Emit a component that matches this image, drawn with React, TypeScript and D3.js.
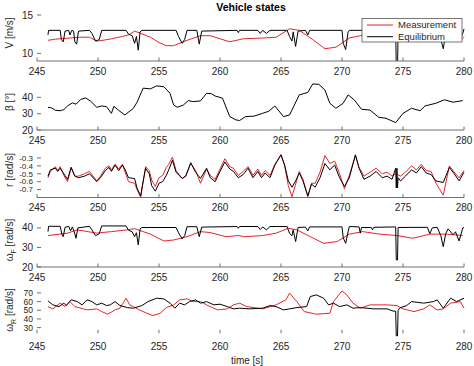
import * as d3 from "d3";
import { useEffect, useRef } from "react";

type Pt = [number, number];

const timeTicks = [245, 250, 255, 260, 265, 270, 275, 280];

// V [m/s]
const vMeasurement: Pt[] = [
  [245.9, 11.7], [246.5, 11.85], [247.5, 11.97], [248.5, 12.1], [249.3, 12.1], [249.9, 11.6],
  [250.4, 11.7], [251.1, 11.9], [252.0, 12.2], [252.5, 12.4], [253.0, 12.9], [253.5, 12.6],
  [254.3, 12.1], [255.0, 11.4], [255.6, 11.0], [256.2, 11.0], [257.3, 11.7], [258.4, 12.3],
  [259.2, 12.3], [260.0, 11.9], [260.8, 11.5], [261.9, 11.9], [263.5, 12.0], [264.6, 12.1],
  [265.3, 12.8], [265.7, 13.2], [266.5, 13.0], [267.6, 11.8], [268.6, 10.6], [269.5, 10.8],
  [270.6, 12.0], [271.5, 12.3], [272.5, 12.4], [274.0, 12.2], [275.5, 12.0], [277.0, 12.0],
  [278.5, 11.8], [279.7, 11.6], [280.0, 12.2],
];
const vEquilibrium: Pt[] = [
  [245.9, 12.4], [245.95, 13.0], [246.9, 13.0], [247.0, 11.8], [247.15, 11.5], [247.3, 12.9],
  [247.6, 13.0], [247.7, 12.4], [247.85, 13.0], [248.0, 12.9], [248.1, 11.5], [248.25, 11.2],
  [248.4, 12.9], [249.3, 13.0], [249.5, 12.6], [249.8, 11.6], [250.1, 11.8], [250.3, 13.0],
  [252.3, 13.0], [252.5, 12.5], [252.8, 12.3], [253.0, 11.3], [253.15, 12.2], [253.3, 10.4],
  [253.45, 12.8], [253.6, 13.0], [256.4, 13.0], [256.6, 12.2], [256.9, 11.3], [257.1, 11.8],
  [257.3, 13.0], [258.1, 13.0], [258.3, 11.2], [258.5, 12.9], [261.4, 13.0], [261.5, 12.7],
  [261.6, 13.0], [263.1, 13.0], [263.3, 12.6], [263.5, 13.0], [263.8, 12.6], [264.1, 13.0],
  [265.5, 13.0], [265.7, 12.2], [265.9, 11.6], [266.0, 12.8], [266.2, 10.9], [266.4, 12.9],
  [267.0, 13.0], [267.2, 12.4], [267.35, 13.0], [270.0, 13.0], [270.1, 11.3], [270.3, 10.5],
  [270.5, 12.8], [270.6, 13.0], [274.4, 13.0], [274.45, 8.0], [274.55, 8.0], [274.6, 13.0],
  [277.9, 13.0], [278.1, 11.8], [278.3, 10.6], [278.5, 12.5], [278.7, 13.0], [279.5, 12.8],
  [279.7, 11.8], [279.9, 12.6], [280.0, 13.2],
];

// beta [deg]
const betaMeasurement: Pt[] = [
  [245.9, 33.9], [246.2, 33.5], [246.5, 32.1], [246.9, 31.8], [247.2, 32.5], [247.5, 34.7],
  [247.9, 36.6], [248.2, 35.8], [248.6, 38.8], [249.0, 39.6], [249.4, 37.6], [249.9, 33.9],
  [250.3, 34.7], [250.7, 34.3], [251.1, 30.2], [251.3, 34.5], [251.7, 32.0], [252.2, 29.2],
  [252.9, 33.3], [253.2, 37.0], [253.7, 45.6], [254.3, 45.2], [254.8, 47.0], [255.4, 46.5],
  [255.9, 42.5], [256.2, 35.3], [256.5, 33.9], [257.0, 35.3], [257.4, 38.0], [257.8, 37.4],
  [258.4, 37.8], [258.9, 42.5], [259.3, 42.2], [259.6, 40.8], [260.2, 39.5], [260.8, 28.2],
  [261.3, 26.2], [261.6, 25.8], [262.1, 28.2], [262.8, 28.5], [263.5, 30.2], [264.0, 31.5],
  [264.5, 34.7], [265.2, 28.2], [265.7, 29.2], [266.5, 41.5], [267.2, 43.0], [267.6, 48.2],
  [268.1, 48.0], [268.6, 44.5], [269.0, 36.4], [269.5, 33.3], [270.1, 36.4], [270.5, 41.5],
  [271.0, 38.5], [271.6, 32.7], [272.3, 32.2], [273.0, 27.8], [273.6, 27.2], [274.4, 24.5],
  [275.0, 30.2], [275.7, 33.3], [276.4, 31.8], [276.8, 34.7], [277.7, 36.4], [278.4, 38.5],
  [279.1, 37.0], [279.9, 38.0],
];

// r [rad/s]
const rMeasurement: Pt[] = [
  [245.9, -0.55], [246.1, -0.47], [246.5, -0.41], [246.7, -0.46], [246.9, -0.41], [247.2, -0.52],
  [247.5, -0.6], [247.8, -0.42], [248.1, -0.53], [248.4, -0.53], [248.9, -0.5], [249.3, -0.47],
  [249.9, -0.59], [250.2, -0.53], [250.6, -0.43], [250.9, -0.4], [251.1, -0.45], [251.4, -0.38],
  [251.7, -0.44], [252.0, -0.38], [252.2, -0.47], [252.5, -0.6], [253.0, -0.62], [253.2, -0.7],
  [253.5, -0.8], [253.6, -0.7], [253.9, -0.41], [254.2, -0.46], [254.4, -0.58], [254.7, -0.66],
  [255.0, -0.55], [255.3, -0.52], [255.6, -0.42], [255.8, -0.38], [256.1, -0.29], [256.4, -0.46],
  [256.9, -0.56], [257.2, -0.52], [257.6, -0.37], [258.0, -0.46], [258.4, -0.62], [258.9, -0.44],
  [259.2, -0.52], [259.6, -0.57], [260.0, -0.44], [260.4, -0.31], [260.8, -0.41], [261.1, -0.43],
  [261.5, -0.52], [261.9, -0.47], [262.3, -0.41], [262.7, -0.52], [263.1, -0.44], [263.4, -0.52],
  [263.7, -0.46], [264.1, -0.52], [264.5, -0.38], [265.0, -0.26], [265.3, -0.4], [265.6, -0.65],
  [265.9, -0.79], [266.2, -0.63], [266.5, -0.47], [266.8, -0.57], [267.2, -0.79], [267.5, -0.62],
  [267.8, -0.62], [268.2, -0.48], [268.6, -0.27], [269.0, -0.37], [269.4, -0.34], [269.8, -0.5],
  [270.2, -0.69], [270.6, -0.52], [271.1, -0.27], [271.4, -0.42], [271.8, -0.53], [272.3, -0.48],
  [272.8, -0.43], [273.3, -0.5], [273.7, -0.48], [274.1, -0.53], [274.4, -0.5], [274.8, -0.53],
  [275.2, -0.48], [275.7, -0.4], [276.1, -0.45], [276.5, -0.38], [276.9, -0.46], [277.3, -0.47],
  [277.7, -0.62], [278.3, -0.77], [278.8, -0.4], [279.2, -0.48], [279.6, -0.55], [280.0, -0.46],
];
const rEquilibrium: Pt[] = [
  [245.9, -0.53], [246.1, -0.45], [246.5, -0.43], [246.7, -0.47], [246.9, -0.43], [247.2, -0.5],
  [247.5, -0.57], [247.8, -0.42], [248.1, -0.53], [248.4, -0.55], [248.9, -0.53], [249.3, -0.5],
  [249.9, -0.6], [250.2, -0.55], [250.6, -0.46], [250.9, -0.42], [251.1, -0.47], [251.4, -0.39],
  [251.7, -0.46], [252.0, -0.39], [252.2, -0.44], [252.5, -0.55], [253.0, -0.56], [253.2, -0.68],
  [253.5, -0.78], [253.6, -0.68], [253.9, -0.43], [254.2, -0.5], [254.4, -0.65], [254.7, -0.72],
  [255.0, -0.62], [255.3, -0.6], [255.6, -0.52], [255.8, -0.45], [256.1, -0.33], [256.4, -0.48],
  [256.9, -0.56], [257.2, -0.53], [257.6, -0.36], [258.0, -0.48], [258.4, -0.56], [258.9, -0.43],
  [259.2, -0.55], [259.6, -0.6], [260.0, -0.47], [260.4, -0.35], [260.8, -0.44], [261.1, -0.47],
  [261.5, -0.55], [261.9, -0.51], [262.3, -0.43], [262.7, -0.55], [263.1, -0.47], [263.4, -0.55],
  [263.7, -0.49], [264.1, -0.55], [264.5, -0.39], [265.0, -0.26], [265.3, -0.39], [265.6, -0.59],
  [265.9, -0.67], [266.2, -0.59], [266.5, -0.49], [266.8, -0.59], [267.2, -0.78], [267.5, -0.63],
  [267.8, -0.67], [268.2, -0.55], [268.6, -0.37], [269.0, -0.45], [269.4, -0.39], [269.8, -0.55],
  [270.2, -0.66], [270.6, -0.55], [271.1, -0.26], [271.4, -0.43], [271.8, -0.57], [272.3, -0.53],
  [272.8, -0.47], [273.3, -0.55], [273.7, -0.53], [274.1, -0.57], [274.4, -0.43], [274.45, -0.68],
  [274.5, -0.43], [274.55, -0.68], [274.6, -0.55], [274.8, -0.59], [275.2, -0.53], [275.7, -0.45],
  [276.1, -0.49], [276.5, -0.41], [276.9, -0.49], [277.3, -0.51], [277.7, -0.59], [278.3, -0.61],
  [278.8, -0.42], [279.2, -0.5], [279.6, -0.59], [280.0, -0.48],
];

// omega_F [rad/s]
const omegaFMeasurement: Pt[] = [
  [245.9, 36.1], [247.5, 37.3], [248.3, 39.0], [249.9, 37.3], [251.1, 38.1], [252.4, 39.0],
  [253.0, 39.6], [254.3, 36.8], [255.4, 33.3], [256.2, 33.8], [257.3, 35.5], [258.4, 38.1],
  [259.2, 37.6], [260.5, 35.5], [261.5, 36.1], [262.0, 35.5], [263.5, 36.1], [264.6, 37.3],
  [265.6, 39.8], [266.3, 39.0], [267.4, 35.5], [268.5, 32.1], [269.6, 33.0], [270.6, 36.8],
  [271.7, 38.1], [273.1, 36.8], [274.5, 36.1], [275.8, 34.7], [277.2, 36.8], [278.6, 36.8],
  [279.9, 36.1],
];
const omegaFEquilibrium: Pt[] = [
  [245.9, 38.1], [245.95, 40.8], [246.9, 40.8], [247.05, 36.5], [247.15, 35.5], [247.3, 40.3],
  [247.6, 40.8], [247.75, 38.5], [247.9, 40.5], [248.05, 38.0], [248.2, 34.7], [248.35, 40.0],
  [249.3, 40.8], [249.5, 39.0], [249.8, 36.0], [250.1, 37.0], [250.3, 41.0], [252.3, 41.0],
  [252.5, 38.8], [252.8, 38.0], [253.0, 35.5], [253.15, 37.5], [253.3, 31.3], [253.45, 39.5],
  [253.6, 40.2], [256.4, 40.2], [256.6, 37.5], [256.9, 34.4], [257.1, 36.0], [257.3, 40.6],
  [258.1, 40.6], [258.3, 35.5], [258.5, 40.4], [261.4, 40.7], [261.5, 39.8], [261.6, 40.7],
  [263.1, 40.7], [263.3, 39.2], [263.5, 40.5], [263.8, 39.0], [264.1, 40.7], [265.5, 40.7],
  [265.7, 37.2], [265.9, 36.0], [266.0, 39.0], [266.2, 33.0], [266.4, 40.2], [267.0, 40.4],
  [267.2, 38.5], [267.35, 40.5], [270.0, 40.5], [270.1, 35.0], [270.3, 32.1], [270.5, 38.0],
  [270.6, 40.7], [271.4, 40.5], [271.5, 37.3], [271.6, 40.2], [272.4, 40.2], [272.5, 39.0],
  [272.6, 40.3], [274.4, 40.5], [274.45, 23.6], [274.55, 23.6], [274.6, 40.2], [277.0, 40.3],
  [277.2, 37.0], [277.4, 40.0], [277.8, 40.3], [278.1, 36.0], [278.3, 30.4], [278.5, 37.0],
  [278.7, 39.5], [279.1, 36.5], [279.3, 38.0], [279.6, 33.3], [279.9, 40.0], [280.0, 40.2],
];

// omega_R [rad/s]
const omegaRMeasurement: Pt[] = [
  [245.9, 54.2], [246.3, 51.6], [246.9, 58.2], [247.3, 54.2], [247.7, 60.0], [248.1, 54.2],
  [248.6, 52.4], [249.1, 50.4], [249.9, 51.6], [250.3, 48.5], [250.8, 45.5], [251.4, 50.4],
  [251.8, 52.4], [252.3, 63.9], [252.6, 56.2], [252.9, 54.2], [253.4, 50.4], [254.0, 46.6],
  [254.5, 43.9], [255.1, 46.6], [255.6, 53.1], [256.2, 56.2], [256.7, 62.0], [257.3, 63.1],
  [257.8, 60.0], [258.4, 60.0], [258.9, 56.2], [259.8, 50.4], [260.6, 51.6], [261.1, 56.2],
  [261.6, 58.2], [262.2, 54.2], [263.5, 51.6], [264.6, 56.2], [265.4, 62.0], [265.7, 69.7],
  [266.3, 60.0], [266.9, 48.5], [267.9, 45.5], [269.0, 46.6], [269.3, 60.0], [270.0, 72.3],
  [270.4, 67.7], [270.9, 58.2], [271.5, 52.4], [272.3, 56.2], [273.7, 56.2], [274.5, 55.4],
  [275.0, 51.6], [275.9, 48.5], [276.7, 51.6], [277.2, 56.2], [277.8, 50.4], [278.3, 51.6],
  [278.9, 58.2], [279.7, 60.0], [280.0, 52.4],
];
const omegaREquilibrium: Pt[] = [
  [245.9, 60.8], [246.3, 56.2], [246.8, 54.2], [247.2, 58.2], [247.4, 55.4], [247.8, 62.0],
  [248.3, 60.0], [248.7, 56.2], [249.1, 62.0], [249.5, 60.0], [249.9, 56.2], [250.3, 58.2],
  [250.7, 55.4], [251.0, 56.2], [251.4, 60.0], [251.8, 55.4], [252.4, 53.1], [252.9, 52.4],
  [253.6, 55.4], [254.1, 60.0], [254.8, 63.9], [255.4, 63.1], [255.9, 58.2], [256.3, 52.4],
  [256.7, 58.2], [257.1, 56.2], [257.5, 60.0], [258.0, 62.0], [258.4, 58.2], [258.9, 60.0],
  [259.5, 56.2], [260.0, 57.0], [260.6, 54.2], [261.1, 51.6], [261.6, 52.4], [262.4, 51.6],
  [263.5, 52.4], [264.1, 55.4], [264.6, 54.2], [265.2, 50.4], [265.7, 51.6], [266.3, 53.1],
  [267.1, 54.2], [267.4, 65.8], [267.9, 67.7], [268.5, 63.9], [268.9, 56.2], [269.3, 58.2],
  [269.8, 54.2], [270.4, 56.2], [270.9, 52.4], [271.5, 53.1], [272.6, 51.6], [273.7, 51.6],
  [274.2, 49.0], [274.4, 49.0], [274.45, 20.0], [274.55, 20.0], [274.6, 50.0], [274.8, 53.1],
  [275.3, 55.4], [275.7, 60.0], [276.7, 58.2], [277.5, 60.0], [277.8, 62.0], [278.3, 52.4],
  [278.9, 63.9], [279.4, 60.0], [280.0, 63.9],
];

const vTicks = [10, 15];
const betaTicks = [20, 30, 40];
const rTicks = [-0.7, -0.6, -0.5, -0.4, -0.3];
const omegaFTicks = [20, 30, 40];
const omegaRTicks = [30, 40, 50, 60, 70];

const FONT = "'Liberation Sans', Arial, Helvetica, sans-serif";
const TEXT = "#262626";
const RED = "#e3262b";

export default function App() {
  const ref = useRef<SVGSVGElement | null>(null);

  useEffect(() => {
    const width = 474;
    const height = 366;
    const svg = d3.select(ref.current);
    svg.selectAll("*").remove();
    svg.attr("width", width).attr("height", height);

    const x = d3.scaleLinear().domain([245, 280]).range([37, 464]);

    const panels = [
      { name: "V", sub: "", unit: "[m/s]", domain: [9, 15], top: 15, bottom: 61, ticks: vTicks, tickSize: 10, fmt: (d: number) => `${d}`, meas: vMeasurement, eq: vEquilibrium as Pt[] | null, labelY: 33, axisLine: true },
      { name: "β", sub: "", unit: "[°]", domain: [20, 50], top: 81, bottom: 130, ticks: betaTicks, tickSize: 10, fmt: (d: number) => `${d}`, meas: betaMeasurement, eq: null, labelY: 102, axisLine: true },
      { name: "r", sub: "", unit: "[rad/s]", domain: [-0.8, -0.25], top: 154, bottom: 197.5, ticks: rTicks, tickSize: 8, fmt: (d: number) => d.toFixed(1), meas: rMeasurement, eq: rEquilibrium, labelY: 170, axisLine: true },
      { name: "ω", sub: "F", unit: "[rad/s]", domain: [20, 42.5], top: 223, bottom: 267, ticks: omegaFTicks, tickSize: 10, fmt: (d: number) => `${d}`, meas: omegaFMeasurement, eq: omegaFEquilibrium, labelY: 240, axisLine: true },
      { name: "ω", sub: "R", unit: "[rad/s]", domain: [20, 73], top: 290.3, bottom: 336.3, ticks: omegaRTicks, tickSize: 8.5, fmt: (d: number) => `${d}`, meas: omegaRMeasurement, eq: omegaREquilibrium, labelY: 310, axisLine: false },
    ];

    const defs = svg.append("defs");

    panels.forEach((p, i) => {
      const y = d3.scaleLinear().domain(p.domain).range([p.bottom, p.top]);
      const g = svg.append("g");

      defs
        .append("clipPath")
        .attr("id", `clip${i}`)
        .append("rect")
        .attr("x", 37)
        .attr("y", p.top - 2)
        .attr("width", 428)
        .attr("height", p.bottom - p.top + 2);

      const line = d3
        .line<Pt>()
        .x((d) => x(d[0]))
        .y((d) => y(d[1]));

      const plot = g.append("g").attr("clip-path", `url(#clip${i})`);
      if (p.eq) {
        plot
          .append("path")
          .attr("d", line(p.meas))
          .attr("fill", "none")
          .attr("stroke", RED)
          .attr("stroke-width", 1);
        plot
          .append("path")
          .attr("d", line(p.eq))
          .attr("fill", "none")
          .attr("stroke", "#000")
          .attr("stroke-width", 1);
      } else {
        plot
          .append("path")
          .attr("d", line(p.meas))
          .attr("fill", "none")
          .attr("stroke", "#000")
          .attr("stroke-width", 1);
      }

      // x axis
      const tickBase = p.axisLine ? p.bottom : p.bottom - 3;
      if (p.axisLine) {
        g.append("line")
          .attr("x1", x(245))
          .attr("x2", x(280))
          .attr("y1", p.bottom)
          .attr("y2", p.bottom)
          .attr("stroke", "#6e6e6e")
          .attr("stroke-width", 1);
      }
      timeTicks.forEach((t) => {
        g.append("line")
          .attr("x1", x(t))
          .attr("x2", x(t))
          .attr("y1", tickBase)
          .attr("y2", tickBase - 3.5)
          .attr("stroke", "#6e6e6e")
          .attr("stroke-width", 1);
        g.append("text")
          .attr("x", x(t))
          .attr("y", p.bottom + 13.5)
          .attr("text-anchor", "middle")
          .style("font-family", FONT)
          .style("font-size", "10px")
          .style("fill", TEXT)
          .text(t);
      });

      // y ticks (no vertical axis line)
      p.ticks.forEach((v) => {
        g.append("line")
          .attr("x1", 37)
          .attr("x2", 41)
          .attr("y1", y(v))
          .attr("y2", y(v))
          .attr("stroke", "#6e6e6e")
          .attr("stroke-width", 1);
        g.append("text")
          .attr("x", 33)
          .attr("y", y(v) + p.tickSize * 0.35)
          .attr("text-anchor", "end")
          .style("font-family", FONT)
          .style("font-size", `${p.tickSize}px`)
          .style("fill", TEXT)
          .text(p.fmt(v));
      });

      const lab = g
        .append("text")
        .attr("transform", `translate(13, ${p.labelY}) rotate(-90)`)
        .attr("text-anchor", "middle")
        .style("font-family", FONT)
        .style("font-size", "10px")
        .style("fill", TEXT);
      lab.append("tspan").text(p.name);
      if (p.sub) {
        lab.append("tspan").attr("dy", 2.5).style("font-size", "7px").text(p.sub);
        lab.append("tspan").attr("dy", -2.5).text(" " + p.unit);
      } else {
        lab.append("tspan").text(" " + p.unit);
      }
    });

    // title
    svg
      .append("text")
      .attr("x", 251)
      .attr("y", 11)
      .attr("text-anchor", "middle")
      .style("font-family", FONT)
      .style("font-size", "10.5px")
      .style("font-weight", "bold")
      .style("fill", "#000")
      .text("Vehicle states");

    // x label
    svg
      .append("text")
      .attr("x", 247)
      .attr("y", 363.5)
      .attr("text-anchor", "middle")
      .style("font-family", FONT)
      .style("font-size", "10px")
      .style("fill", TEXT)
      .text("time [s]");

    // legend
    const legend = svg.append("g");
    legend
      .append("rect")
      .attr("x", 362)
      .attr("y", 18.5)
      .attr("width", 100)
      .attr("height", 23.5)
      .attr("fill", "#fff")
      .attr("stroke", "#555")
      .attr("stroke-width", 0.8);
    const items = [
      { label: "Measurement", color: RED },
      { label: "Equilibrium", color: "#000" },
    ];
    items.forEach((d, i) => {
      const yy = 25 + i * 11.7;
      legend
        .append("line")
        .attr("x1", 367)
        .attr("x2", 393)
        .attr("y1", yy)
        .attr("y2", yy)
        .attr("stroke", d.color)
        .attr("stroke-width", 1);
      legend
        .append("text")
        .attr("x", 398)
        .attr("y", yy + 3.3)
        .style("font-family", FONT)
        .style("font-size", "9.5px")
        .style("fill", TEXT)
        .text(d.label);
    });
  }, []);

  return (
    <div style={{ position: "absolute", left: 0, top: 0, background: "#fff" }}>
      <svg ref={ref} style={{ display: "block" }}></svg>
    </div>
  );
}
